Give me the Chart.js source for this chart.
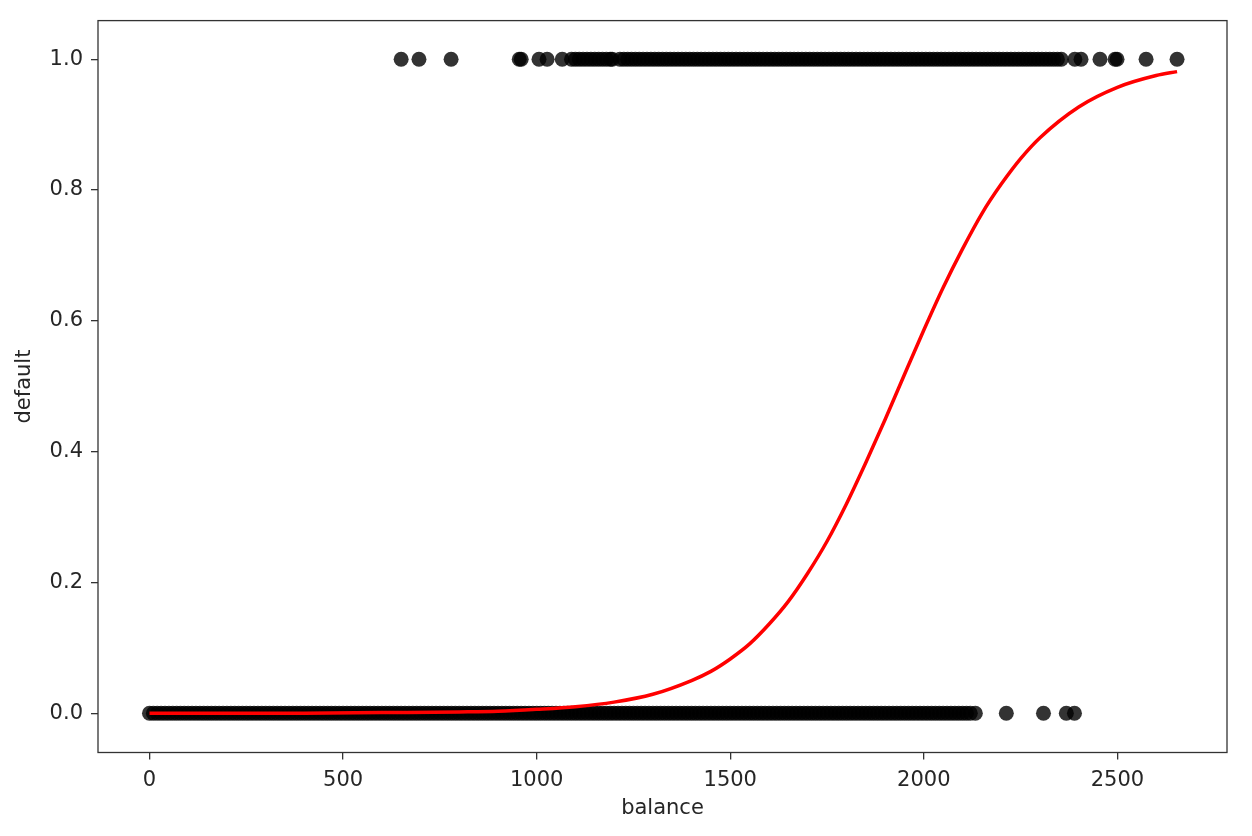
<!DOCTYPE html>
<html>
<head>
<meta charset="utf-8">
<script src="https://cdn.jsdelivr.net/npm/chart.js@4.4.1/dist/chart.umd.min.js"></script>
<style>
  body { margin: 0; background: #ffffff; }
  #wrap { width: 1252px; height: 836px; }
</style>
</head>
<body>
<div id="wrap"><canvas id="chart" width="1252" height="836"></canvas></div>
<script>
// balance of customers with default = 0 (dense run)
const noDefaultBalance = [
    0, 10, 20, 30, 40, 50, 60, 70, 80, 90, 100, 110, 120, 130, 140, 150, 160, 170, 180, 190,
    200, 210, 220, 230, 240, 250, 260, 270, 280, 290, 300, 310, 320, 330, 340, 350, 360, 370, 380, 390,
    400, 410, 420, 430, 440, 450, 460, 470, 480, 490, 500, 510, 520, 530, 540, 550, 560, 570, 580, 590,
    600, 610, 620, 630, 640, 650, 660, 670, 680, 690, 700, 710, 720, 730, 740, 750, 760, 770, 780, 790,
    800, 810, 820, 830, 840, 850, 860, 870, 880, 890, 900, 910, 920, 930, 940, 950, 960, 970, 980, 990,
    1000, 1010, 1020, 1030, 1040, 1050, 1060, 1070, 1080, 1090, 1100, 1110, 1120, 1130, 1140, 1150, 1160, 1170, 1180, 1190,
    1200, 1210, 1220, 1230, 1240, 1250, 1260, 1270, 1280, 1290, 1300, 1310, 1320, 1330, 1340, 1350, 1360, 1370, 1380, 1390,
    1400, 1410, 1420, 1430, 1440, 1450, 1460, 1470, 1480, 1490, 1500, 1510, 1520, 1530, 1540, 1550, 1560, 1570, 1580, 1590,
    1600, 1610, 1620, 1630, 1640, 1650, 1660, 1670, 1680, 1690, 1700, 1710, 1720, 1730, 1740, 1750, 1760, 1770, 1780, 1790,
    1800, 1810, 1820, 1830, 1840, 1850, 1860, 1870, 1880, 1890, 1900, 1910, 1920, 1930, 1940, 1950, 1960, 1970, 1980, 1990,
    2000, 2010, 2020, 2030, 2040, 2050, 2060, 2070, 2080, 2090, 2100, 2110, 2120, 2133,
    2213, 2309, 2368, 2389
];

// balance of customers with default = 1
const defaultBalance = [
    650, 696, 779, 955, 960, 1006, 1027, 1066,
    1090, 1100, 1110, 1120, 1130, 1140, 1150, 1160, 1170, 1180, 1190, 1195,
    1215, 1225, 1235, 1245, 1255, 1265, 1275, 1285, 1295, 1305, 1315, 1325, 1335, 1345, 1355, 1365, 1375, 1385, 1395,
    1405, 1415, 1425, 1435, 1445, 1455, 1465, 1475, 1485, 1495, 1505, 1515, 1525, 1535, 1545, 1555, 1565, 1575, 1585, 1595,
    1605, 1615, 1625, 1635, 1645, 1655, 1665, 1675, 1685, 1695, 1705, 1715, 1725, 1735, 1745, 1755, 1765, 1775, 1785, 1795,
    1805, 1815, 1825, 1835, 1845, 1855, 1865, 1875, 1885, 1895, 1905, 1915, 1925, 1935, 1945, 1955, 1965, 1975, 1985, 1995,
    2005, 2015, 2025, 2035, 2045, 2055, 2065, 2075, 2085, 2095, 2105, 2115, 2125, 2135, 2145, 2155, 2165, 2175, 2185, 2195,
    2205, 2215, 2225, 2235, 2245, 2255, 2265, 2275, 2285, 2295, 2305, 2315, 2325, 2335, 2345, 2355,
    2390, 2406, 2455, 2494, 2499, 2574, 2654
];

// fitted logistic curve (red line)
const curveBalance = [0, 200, 400, 600, 800, 900, 1000, 1100, 1200, 1300, 1400, 1450, 1500, 1550,
    1600, 1650, 1700, 1750, 1800, 1850, 1900, 1950, 2000, 2050, 2100, 2150, 2200, 2250,
    2300, 2400, 2500, 2600, 2654];
const curveProb = [0.000, 0.000, 0.000, 0.001, 0.002, 0.003, 0.006, 0.010, 0.017, 0.029, 0.050, 0.064, 0.083, 0.106,
    0.136, 0.171, 0.214, 0.263, 0.320, 0.383, 0.449, 0.518, 0.586, 0.651, 0.710, 0.764, 0.809, 0.848,
    0.880, 0.927, 0.957, 0.975, 0.981];

const xTicks = [0, 500, 1000, 1500, 2000, 2500];
const yTicks = [0.0, 0.2, 0.4, 0.6, 0.8, 1.0];

const axisColor = '#333333';
const textColor = '#262626';
const font = { family: "'DejaVu Sans', sans-serif", size: 21 };
const dotColor = 'rgba(0, 0, 0, 0.8)';

// matplotlib-like box around the plot area
const framePlugin = {
    id: 'frame',
    afterDraw(chart) {
        const { ctx, chartArea: a } = chart;
        ctx.save();
        ctx.strokeStyle = axisColor;
        ctx.lineWidth = 1.3;
        ctx.strokeRect(a.left, a.top, a.right - a.left, a.bottom - a.top);
        ctx.restore();
    }
};

const ctx = document.getElementById('chart').getContext('2d');
new Chart(ctx, {
    type: 'scatter',
    data: {
        datasets: [{
            label: 'fit',
            data: curveBalance.map((x, i) => ({ x: x, y: curveProb[i] })),
            showLine: true,
            borderColor: '#ff0000',
            borderWidth: 3.5,
            pointRadius: 0,
            cubicInterpolationMode: 'monotone',
            fill: false,
            order: 0
        }, {
            label: 'default = 0',
            data: noDefaultBalance.map(x => ({ x: x, y: 0 })),
            backgroundColor: dotColor,
            borderWidth: 0,
            pointRadius: 7.5,
            pointBorderWidth: 0,
            order: 1
        }, {
            label: 'default = 1',
            data: defaultBalance.map(x => ({ x: x, y: 1 })),
            backgroundColor: dotColor,
            borderWidth: 0,
            pointRadius: 7.5,
            pointBorderWidth: 0,
            order: 1
        }]
    },
    options: {
        responsive: false,
        animation: false,
        layout: {
            padding: { top: 19, right: 25, bottom: 15, left: 0 }
        },
        plugins: {
            legend: { display: false },
            tooltip: { enabled: false }
        },
        scales: {
            x: {
                type: 'linear',
                min: -133,
                max: 2783,
                afterBuildTicks: s => { s.ticks = xTicks.map(v => ({ value: v })); },
                afterFit: s => { s.height = 68.5; },
                grid: {
                    drawOnChartArea: false,
                    drawTicks: true,
                    tickLength: 7,
                    color: axisColor,
                    lineWidth: 1.3
                },
                border: { display: false },
                ticks: {
                    font: font,
                    color: textColor,
                    padding: 8,
                    maxRotation: 0,
                    callback: v => String(v)
                },
                title: {
                    display: true,
                    text: 'balance',
                    font: font,
                    color: textColor,
                    padding: { top: 0, bottom: 0 }
                }
            },
            y: {
                type: 'linear',
                min: -0.06,
                max: 1.059,
                afterBuildTicks: s => { s.ticks = yTicks.map(v => ({ value: v })); },
                afterFit: s => { s.width = 98; },
                grid: {
                    drawOnChartArea: false,
                    drawTicks: true,
                    tickLength: 7,
                    color: axisColor,
                    lineWidth: 1.3
                },
                border: { display: false },
                ticks: {
                    font: font,
                    color: textColor,
                    padding: 8,
                    callback: v => v.toFixed(1)
                },
                title: {
                    display: true,
                    text: 'default',
                    font: font,
                    color: textColor,
                    padding: { top: 12, bottom: 0 }
                }
            }
        }
    },
    plugins: [framePlugin]
});
</script>
</body>
</html>
